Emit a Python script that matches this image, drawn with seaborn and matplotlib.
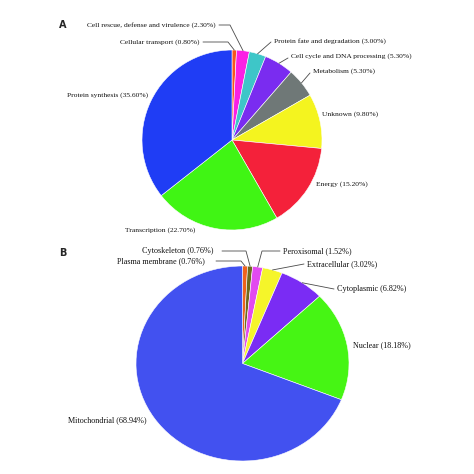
import matplotlib
matplotlib.use('Agg')
import matplotlib.pyplot as plt
import seaborn as sns
import numpy as np
from matplotlib.lines import Line2D

sns.set_style('white')
plt.rcParams['font.family'] = ['Liberation Serif', 'DejaVu Serif']

# panel A: functional categories
a_names = ['Cellular transport', 'Cell rescue, defense and virulence', 'Protein fate and degradation',
           'Cell cycle and DNA processing', 'Metabolism', 'Unknown', 'Energy',
           'Transcription', 'Protein synthesis']
a_values = [0.80, 2.30, 3.00, 5.30, 5.30, 9.80, 15.20, 22.70, 35.60]
a_colors = ['#f8561c', '#fb20e4', '#3ec6c8', '#7a2cf0', '#6f7877', '#f4f41f', '#f4213a',
            '#40f514', '#1f3df5']

# panel B: subcellular location
b_names = ['Plasma membrane', 'Cytoskeleton', 'Peroxisomal', 'Extracellular',
           'Cytoplasmic', 'Nuclear', 'Mitochondrial']
b_values = [0.76, 0.76, 1.52, 3.02, 6.82, 18.18, 68.94]
b_colors = ['#f0621c', '#6f6a1c', '#e24af0', '#f5f52a', '#7a2cf4', '#46f514', '#4251f0']

W = H = 474
fig = plt.figure(figsize=(W / 100, H / 100), dpi=100)


def px(x, y):
    # pixel position from the top-left corner -> figure fraction
    return x / W, 1 - y / H


def make_axes(x0, y0, x1, y1):
    ax = fig.add_axes([x0 / W, 1 - y1 / H, (x1 - x0) / W, (y1 - y0) / H])
    ax.axis('off')
    return ax


def draw_pie(ax, values, colors):
    wedges, _ = ax.pie(values, colors=colors, startangle=90, counterclock=False,
                       radius=1, wedgeprops=dict(edgecolor='white', linewidth=0.4))
    ax.set_xlim(-1, 1)
    ax.set_ylim(-1, 1)
    ax.set_aspect('auto')
    return wedges


def anchor(ax, wedge):
    t = np.deg2rad((wedge.theta1 + wedge.theta2) / 2)
    p = ax.transData.transform((np.cos(t), np.sin(t)))
    return fig.transFigure.inverted().transform(p)


def label(ax, wedge, text, tx, ty, ha, path, size):
    fig.text(*px(tx, ty), text, ha=ha, va='center', fontsize=size, color='#111111')
    if path is None:
        return
    pts = [px(x, y) for x, y in path] + [tuple(anchor(ax, wedge))]
    xs, ys = zip(*pts)
    fig.add_artist(Line2D(xs, ys, transform=fig.transFigure, color='#4a4a4a', lw=0.6))


def pct(name, v):
    return f'{name} ({v:.2f}%)'


# ---- A ----
axA = make_axes(142, 50, 322, 230)
wA = draw_pie(axA, a_values, a_colors)
fs_a = 5.4
label(axA, wA[0], pct(a_names[0], a_values[0]), 200, 42, 'right', [(203, 42), (228, 42)], fs_a)
label(axA, wA[1], pct(a_names[1], a_values[1]), 216, 25, 'right', [(219, 25), (230, 25)], fs_a)
label(axA, wA[2], pct(a_names[2], a_values[2]), 274, 41, 'left', [(271, 42)], fs_a)
label(axA, wA[3], pct(a_names[3], a_values[3]), 291, 56, 'left', [(288, 58)], fs_a)
label(axA, wA[4], pct(a_names[4], a_values[4]), 313, 71, 'left', [(310, 73)], fs_a)
label(axA, wA[5], pct(a_names[5], a_values[5]), 322, 114, 'left', None, fs_a)
label(axA, wA[6], pct(a_names[6], a_values[6]), 316, 184, 'left', None, fs_a)
label(axA, wA[7], pct(a_names[7], a_values[7]), 125, 230, 'left', None, fs_a)
label(axA, wA[8], pct(a_names[8], a_values[8]), 67, 95, 'left', None, fs_a)
fig.text(*px(59, 25), 'A', fontsize=7, fontweight='bold', family='DejaVu Sans', va='center')

# ---- B ----
axB = make_axes(136, 266, 349, 461)
wB = draw_pie(axB, b_values, b_colors)
fs_b = 5.9
label(axB, wB[0], pct(b_names[0], b_values[0]), 205, 261, 'right', [(216, 261), (241, 261)], fs_b)
label(axB, wB[1], pct(b_names[1], b_values[1]), 213, 251, 'right', [(222, 251), (246, 251)], fs_b)
label(axB, wB[2], pct(b_names[2], b_values[2]), 283, 251, 'left', [(280, 251), (262, 251)], fs_b)
label(axB, wB[3], pct(b_names[3], b_values[3]), 307, 264, 'left', [(304, 264)], fs_b)
label(axB, wB[4], pct(b_names[4], b_values[4]), 337, 289, 'left', [(334, 289)], fs_b)
label(axB, wB[5], pct(b_names[5], b_values[5]), 353, 345, 'left', None, fs_b)
label(axB, wB[6], pct(b_names[6], b_values[6]), 68, 420, 'left', None, fs_b)
fig.text(*px(59, 253), 'B', fontsize=7, fontweight='bold', family='DejaVu Sans', va='center')

fig.savefig('out.png', dpi=100, facecolor='white')
